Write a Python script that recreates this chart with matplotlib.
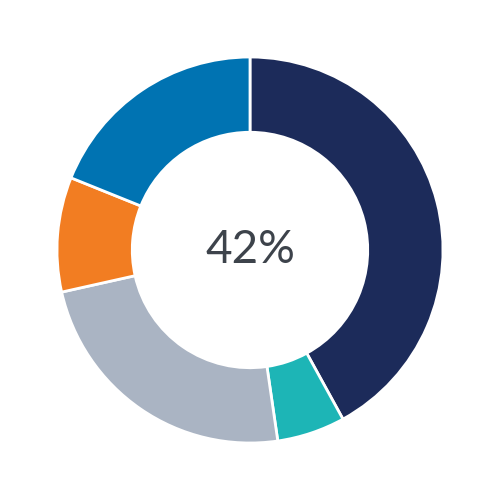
import matplotlib
matplotlib.use("Agg")
import matplotlib.pyplot as plt

# shares, clockwise from 12 o'clock
labels = ["Navy", "Teal", "Gray", "Orange", "Blue"]
values = [42, 5.7, 23.8, 9.6, 18.9]
colors = ["#1c2b5a", "#1db5b6", "#aab4c3", "#f27d22", "#0073b2"]
center_text = "42%"

fig = plt.figure(figsize=(5, 5), dpi=100)
ax = fig.add_axes([0, 0, 1, 1])

ax.pie(values, colors=colors, startangle=90, counterclock=False,
       radius=1.0,
       wedgeprops=dict(width=0.39, edgecolor="white", linewidth=2))

ax.text(0, 0, center_text, ha="center", va="center", fontsize=33,
        color="#3d434b", family=["Lato", "DejaVu Sans"], fontweight="normal")

lim = 250 / 193
ax.set_xlim(-lim, lim)
ax.set_ylim(-lim, lim)
ax.set_aspect("equal")
ax.axis("off")

fig.savefig("out.png", dpi=100, facecolor="white")
